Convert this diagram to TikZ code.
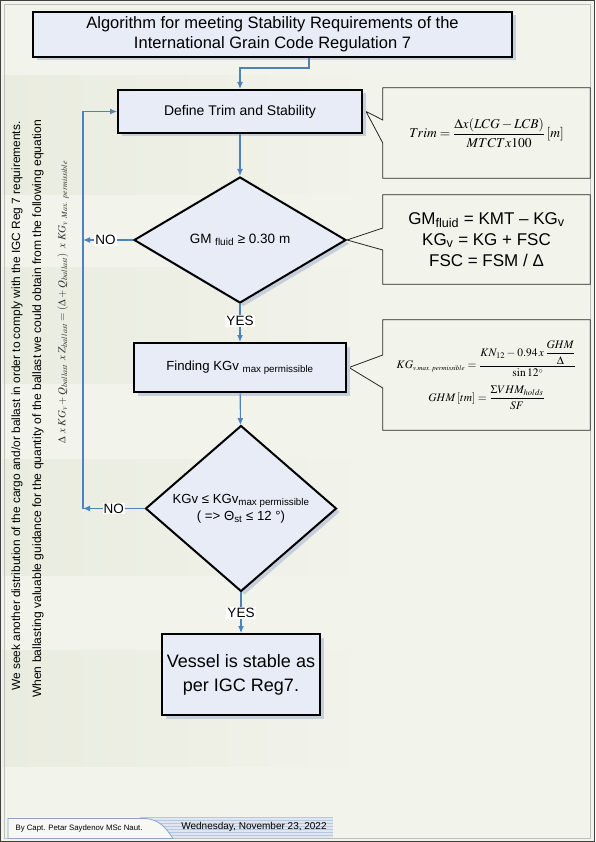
\documentclass[tikz,border=0pt]{standalone}
\usepackage{amsmath}
\usepackage{mathptmx}
\usepackage[no-math]{fontspec}
\setmainfont{Liberation Sans}
\usetikzlibrary{arrows,arrows.meta,shapes.geometric,shadows,backgrounds,positioning}
\definecolor{pagebg}{HTML}{F2F3EB}
\definecolor{bandbg}{HTML}{E9ECDF}
\definecolor{flowfill}{HTML}{E7ECF7}
\definecolor{flowblue}{HTML}{4F81BD}
\definecolor{shadowc}{HTML}{C6CFDB}
\definecolor{tabline}{HTML}{8EA4C8}
\definecolor{stripe}{HTML}{B7C8DF}
\tikzstyle{proc}=[rectangle, draw=black, line width=2pt, fill=flowfill, align=center, inner sep=2pt, drop shadow={shadow xshift=3.5pt, shadow yshift=-3.5pt, fill=shadowc, opacity=1}]
\tikzstyle{decision}=[diamond, draw=black, line width=2pt, fill=flowfill, align=center, inner sep=0pt, drop shadow={shadow xshift=3.5pt, shadow yshift=-3.5pt, fill=shadowc, opacity=1}]
\tikzstyle{flow}=[draw=flowblue, line width=1.1pt, -{Latex[length=7pt, width=6pt]}]
\tikzstyle{lbl}=[fill=white, inner sep=1pt, font=\fontsize{13.5}{15}\selectfont]
\tikzstyle{note}=[minimum width=207pt, align=center]
\tikzstyle{callout}=[draw=black!85, line width=0.8pt, fill=pagebg]
\tikzstyle{sidetext}=[rotate=90, font=\fontsize{11.9}{13}\selectfont]
\begin{document}
\begin{tikzpicture}[x=1pt, y=-1pt]
	\useasboundingbox (0,0) rectangle (595,842);
	\begin{scope}[on background layer]
	\fill[pagebg] (0,0) rectangle (595,842);
	\foreach \ya/\yb in {76/195, 267/383, 459/575, 650/766}
		\shade[left color=bandbg, right color=pagebg] (3,\ya) rectangle (370,\yb);
	\draw[black!25, line width=0.6pt] (4.5,4.5) rectangle (590.5,838.5);
	\draw[black!75, line width=1.2pt] (0.6,0.6) rectangle (594.4,841.4);
	\end{scope}
	%
	\draw (272.5,34.5) node[proc, minimum width=479pt, minimum height=45pt, font=\fontsize{16.5}{20}\selectfont] (title) {Algorithm for meeting Stability Requirements of the\\International Grain Code Regulation 7};
	\draw (240,111.5) node[proc, minimum width=244pt, minimum height=43pt, font=\fontsize{14}{16}\selectfont] (define) {Define Trim and Stability};
	\draw (240,240) node[decision, minimum width=212pt, minimum height=126pt, font=\fontsize{13.5}{16}\selectfont] (gmtest) {GM \textsubscript{fluid} ≥ 0.30 m};
	\draw (240,367.5) node[proc, minimum width=212pt, minimum height=49pt, font=\fontsize{13.2}{16}\selectfont] (finding) {Finding KGv \textsubscript{max permissible}};
	\draw (241,508.5) node[decision, minimum width=191pt, minimum height=127pt, font=\fontsize{13.2}{17}\selectfont] (kgtest) {KGv ≤ KGv\textsubscript{max permissible}\\( => Θ\textsubscript{st} ≤ 12 °)};
	\draw (241,674.5) node[proc, minimum width=158pt, minimum height=81pt, font=\fontsize{18}{24}\selectfont] (stable) {Vessel is stable as\\per IGC Reg7.};
	\coordinate (loop) at (83,0);
	%
	\draw[flow] ([xshift=36.5pt]title.south) -- ++(0,10) -| (define.north);
	\draw[flow] (define) -- (gmtest);
	\draw[flow] (gmtest) -- (finding) node[lbl, pos=0.45] {YES};
	\draw[flow] (finding) -- (kgtest);
	\draw[flow] (kgtest) -- (stable) node[lbl, pos=0.5] {YES};
	\draw[flow] (gmtest.west) -- (gmtest.west -| loop) node[lbl, pos=0.55] {NO};
	\draw[flow] (kgtest.west) -- (kgtest.west -| loop) node[lbl, pos=0.5] {NO};
	\draw[flow] (kgtest.west -| loop) |- (define.west);
	%
	\draw (486.5,133) node[note, minimum height=90pt, font=\fontsize{13.5}{16}\selectfont] (trimnote) {$Trim=\dfrac{\Delta x(LCG-LCB)}{MTCTx100}\left[m\right]$};
	\draw (486.5,239.5) node[note, minimum height=89pt, font=\fontsize{17}{21}\selectfont] (gmnote) {GM\textsubscript{fluid} = KMT – KG\textsubscript{v}\\KG\textsubscript{v} = KG + FSC\\FSC = FSM / Δ};
	\draw (486.5,375) node[note, minimum height=110pt, font=\fontsize{11.5}{13}\selectfont] (kgnote) {$KG_{\scriptscriptstyle v.max.\,permissible}=\dfrac{KN_{12}-0.94\,x\,\dfrac{GHM}{\Delta}}{\sin 12^{\circ}}$\\[8pt]$GHM\left[tm\right]=\dfrac{\Sigma VHM_{holds}}{SF}$};
	\begin{scope}[on background layer]
	\filldraw[callout] (trimnote.north west) -- (trimnote.west |- 0,120) -- ([xshift=3pt]define.east) -- (trimnote.west |- 0,143) -- (trimnote.south west) -- (trimnote.south east) -- (trimnote.north east) -- cycle;
	\filldraw[callout] (gmnote.north west) -- (gmnote.west |- 0,228) -- (gmtest.east) -- (gmnote.west |- 0,250) -- (gmnote.south west) -- (gmnote.south east) -- (gmnote.north east) -- cycle;
	\filldraw[callout] (kgnote.north west) -- (kgnote.west |- 0,355) -- ([xshift=2pt]finding.east) -- (kgnote.west |- 0,388) -- (kgnote.south west) -- (kgnote.south east) -- (kgnote.north east) -- cycle;
	\end{scope}
	%
	\draw (17,406) node[sidetext] (seek) {We seek another distribution of the cargo and/or ballast in order to comply with the IGC Reg 7 requirements.};
	\draw (38,409) node[sidetext, font=\fontsize{12.1}{13}\selectfont] (guide) {When ballasting valuable guidance for the quantity of the ballast we could obtain from the following equation};
	\draw (63,302) node[rotate=90, font=\fontsize{10.8}{12}\selectfont, text=black!80] (balleq) {$\Delta\ x\ KG_v+Q_{ballast}\ x\ Z_{ballast}=\left(\Delta+Q_{ballast}\right)\ x\ KG_{v\ Max.\ permissible}$};
	%
	\fill[stripe!45] (140,817) rectangle (333,838);
	\foreach \y in {817,820,...,836}
		\fill[stripe] (140,\y) rectangle (333,\y+1.4);
	\filldraw[draw=tabline, fill=pagebg!60!white, line width=0.8pt] (8,838.5) -- (8,818.5) -- (146,818.5) .. controls (160,820) and (166,828) .. (173,838.5) -- cycle;
	\draw (79,828.5) node[font=\fontsize{7.8}{9}\selectfont] (author) {By Capt. Petar Saydenov MSc Naut.};
	\draw (254,827) node[font=\fontsize{10}{11}\selectfont] (datestamp) {Wednesday, November 23, 2022};
\end{tikzpicture}
\end{document}
